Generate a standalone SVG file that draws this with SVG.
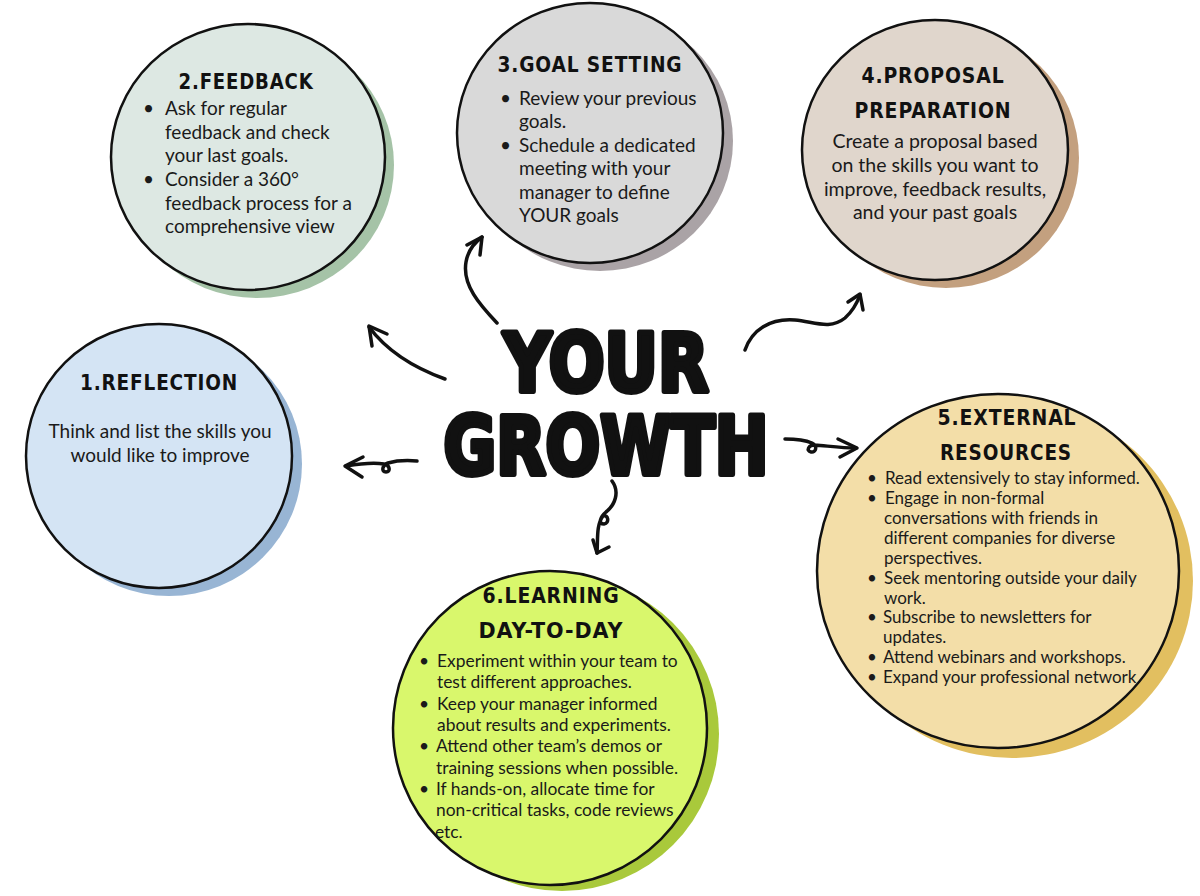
<svg xmlns="http://www.w3.org/2000/svg" width="1200" height="896" viewBox="0 0 1200 896">
<style>
.ring{stroke:#111;stroke-width:2.5}
.head{font-family:"DejaVu Sans","Liberation Sans",sans-serif;font-weight:bold;font-size:22px;fill:#111;text-anchor:middle;letter-spacing:1px}
.body{font-family:Lato,"Liberation Sans",sans-serif;font-size:19px;fill:#1a1a1a}
.mid{text-anchor:middle}
.big{font-family:"DejaVu Sans","Liberation Sans",sans-serif;font-weight:bold;font-size:80px;fill:#111;stroke:#111;stroke-width:6;stroke-linejoin:round;text-anchor:middle}
.arr{fill:none;stroke:#111;stroke-width:3.5;stroke-linecap:round;stroke-linejoin:round}
</style>
<rect width="1200" height="896" fill="#ffffff"/>

<g id="node-feedback">
<ellipse cx="257" cy="165" rx="137" ry="133" fill="#a5c3a7"/>
<ellipse cx="248" cy="157" rx="137" ry="133" fill="#dde8e3" class="ring"/>
<text class="head" x="246" y="89" textLength="135" lengthAdjust="spacingAndGlyphs">2.FEEDBACK</text>
<g class="body">
<text x="143" y="115">•</text>
<text x="165" y="115">Ask for regular</text>
<text x="165" y="139">feedback and check</text>
<text x="165" y="162">your last goals.</text>
<text x="143" y="186">•</text>
<text x="165" y="186">Consider a 360°</text>
<text x="165" y="210">feedback process for a</text>
<text x="165" y="233">comprehensive view</text>
</g>
</g>

<g id="node-goal">
<ellipse cx="600" cy="141" rx="133" ry="130" fill="#aaa3a6"/>
<ellipse cx="590" cy="133" rx="133" ry="130" fill="#d9d9d9" class="ring"/>
<text class="head" x="590" y="72" textLength="185" lengthAdjust="spacingAndGlyphs">3.GOAL SETTING</text>
<g class="body">
<text x="500" y="105">•</text>
<text x="519" y="105">Review your previous</text>
<text x="519" y="128">goals.</text>
<text x="500" y="152">•</text>
<text x="519" y="152">Schedule a dedicated</text>
<text x="519" y="175">meeting with your</text>
<text x="519" y="199">manager to define</text>
<text x="519" y="222">YOUR goals</text>
</g>
</g>

<g id="node-proposal">
<ellipse cx="946" cy="158" rx="133" ry="130" fill="#c3a07f"/>
<ellipse cx="935" cy="150" rx="133" ry="130" fill="#e0d6cc" class="ring"/>
<text class="head" x="933" y="83" textLength="143" lengthAdjust="spacingAndGlyphs">4.PROPOSAL</text>
<text class="head" x="933" y="118" textLength="157" lengthAdjust="spacingAndGlyphs">PREPARATION</text>
<g class="body mid" style="font-size:19.5px">
<text x="935" y="148">Create a proposal based</text>
<text x="935" y="172">on the skills you want to</text>
<text x="935" y="196">improve, feedback results,</text>
<text x="935" y="219">and your past goals</text>
</g>
</g>

<g id="node-reflection">
<ellipse cx="169" cy="464" rx="133" ry="132" fill="#98b5d4"/>
<ellipse cx="159" cy="456" rx="133" ry="132" fill="#d4e4f4" class="ring"/>
<text class="head" x="159" y="390" textLength="158" lengthAdjust="spacingAndGlyphs">1.REFLECTION</text>
<g class="body mid">
<text x="160" y="438">Think and list the skills you</text>
<text x="160" y="462">would like to improve</text>
</g>
</g>

<g id="node-external">
<ellipse cx="1012" cy="581" rx="181" ry="177" fill="#e2bf60"/>
<ellipse cx="998" cy="571" rx="181" ry="177" fill="#f3dea8" class="ring"/>
<text class="head" x="1007" y="425" textLength="139" lengthAdjust="spacingAndGlyphs">5.EXTERNAL</text>
<text class="head" x="1006" y="460" textLength="132" lengthAdjust="spacingAndGlyphs">RESOURCES</text>
<g class="body" style="font-size:17px">
<text x="867" y="484">•</text>
<text x="885" y="484">Read extensively to stay informed.</text>
<text x="867" y="504">•</text>
<text x="885" y="504">Engage in non-formal</text>
<text x="884" y="524">conversations with friends in</text>
<text x="884" y="544">different companies for diverse</text>
<text x="884" y="564">perspectives.</text>
<text x="867" y="584">•</text>
<text x="884" y="584">Seek mentoring outside your daily</text>
<text x="884" y="604">work.</text>
<text x="867" y="623">•</text>
<text x="883" y="623">Subscribe to newsletters for</text>
<text x="883" y="643">updates.</text>
<text x="867" y="663">•</text>
<text x="883" y="663">Attend webinars and workshops.</text>
<text x="867" y="683">•</text>
<text x="883" y="683">Expand your professional network</text>
</g>
</g>

<g id="node-learning">
<ellipse cx="562" cy="734" rx="157" ry="157" fill="#a9c93b"/>
<ellipse cx="550" cy="728" rx="157" ry="157" fill="#d9f76c" class="ring"/>
<text class="head" x="551" y="603" textLength="137" lengthAdjust="spacingAndGlyphs">6.LEARNING</text>
<text class="head" x="551" y="638" textLength="145" lengthAdjust="spacingAndGlyphs">DAY-TO-DAY</text>
<g class="body" style="font-size:17.4px">
<text x="419" y="667">•</text>
<text x="437" y="667">Experiment within your team to</text>
<text x="437" y="688">test different approaches.</text>
<text x="419" y="710">•</text>
<text x="437" y="710">Keep your manager informed</text>
<text x="437" y="731">about results and experiments.</text>
<text x="419" y="752">•</text>
<text x="436" y="752">Attend other team’s demos or</text>
<text x="436" y="774">training sessions when possible.</text>
<text x="419" y="795">•</text>
<text x="436" y="795">If hands-on, allocate time for</text>
<text x="436" y="816">non-critical tasks, code reviews</text>
<text x="435" y="838">etc.</text>
</g>
</g>

<g id="node-center">
<text class="big" x="606" y="391" textLength="205" lengthAdjust="spacingAndGlyphs">YOUR</text>
<text class="big" x="606" y="474" textLength="325" lengthAdjust="spacingAndGlyphs">GROWTH</text>
</g>

<g id="connectors" class="arr">
<path d="M445,379 C420,370 390,355 369,327"/>
<path d="M387,334 L369,326 L372,346"/>
<path d="M497,323 C480,305 462,285 466,262 C468,250 474,243 482,237"/>
<path d="M467,245 L482,237 L480,255"/>
<path d="M745,350 C752,330 770,318 795,320 C815,322 830,330 845,318 C853,311 857,303 860,295"/>
<path d="M848,302 L860,294 L863,310"/>
<path d="M417,461 C405,460 395,461 388,463 C382,465 381,472 386,472 C391,472 390,465 384,464 C372,462 358,464 346,466"/>
<path d="M363,457 L345,466 L362,477"/>
<path d="M785,439 C795,439 805,440 812,443 C818,446 816,453 811,452 C806,451 808,445 815,445 C828,446 842,448 856,448"/>
<path d="M838,439 L857,448 L840,457"/>
<path d="M612,481 C620,492 615,505 606,512 C600,517 598,524 604,524 C610,523 608,514 603,516 C596,525 598,540 597,553"/>
<path d="M593,540 L597,553 L609,547"/>
</g>
</svg>
